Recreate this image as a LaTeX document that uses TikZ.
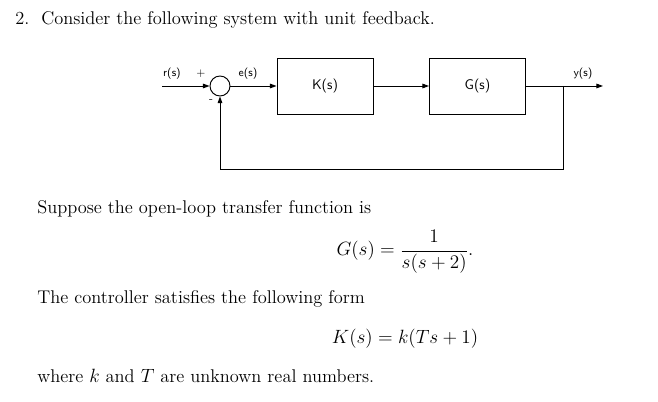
\documentclass[tikz,border=0pt]{standalone}
\usepackage{amsmath}
\usetikzlibrary{arrows.meta}
\begin{document}
\begin{tikzpicture}[x=0.75pt,y=-0.75pt,
  blk/.style={draw,line width=0.7pt,minimum width=72pt,minimum height=42pt,font=\sffamily\fontsize{10.5}{12}\selectfont},
  sig/.style={font=\sffamily\fontsize{8.5}{10}\selectfont},
  txt/.style={anchor=west,inner sep=0pt,font=\fontsize{13.8}{16}\selectfont},
  wire/.style={line width=0.7pt},
  arr/.style={wire,-{Triangle[length=5pt,width=3.5pt]}}]
\useasboundingbox (0,0) rectangle (658,402);
\node[txt] (title) at (15,20) {2.\ \ Consider the following system with unit feedback.};
\node[draw,circle,line width=0.7pt,minimum size=15pt,inner sep=0pt] (sum) at (220,86) {};
\node[blk] (K) at (325,86) {K(s)};
\node[blk] (G) at (477.5,86) {G(s)};
\coordinate (in) at (162,86);
\coordinate (br) at (563,86);
\coordinate (out) at (603,86);
\coordinate (fb) at (563,169);
\coordinate (fb2) at (220,169);
\draw[arr] (in) -- (sum);
\draw[arr] (sum) -- (K);
\draw[arr] (K) -- (G);
\draw[wire] (G) -- (br);
\draw[arr] (br) -- (out);
\draw[wire] (br) -- (fb) -- (fb2);
\draw[arr] (fb2) -- (sum);
\node[sig] (rl) at (172,74) {r(s)};
\node[sig] (pl) at (201,74) {+};
\node[sig] (el) at (248,74) {e(s)};
\node[sig] (ml) at (211,101) {-};
\node[sig] (yl) at (583,74) {y(s)};
\node[txt] (t2) at (37,209) {Suppose the open-loop transfer function is};
\node[inner sep=0pt,font=\fontsize{13.8}{16}\selectfont] (eq1) at (405,252) {$\displaystyle G(s)=\frac{1}{s(s+2)}.$};
\node[txt] (t3) at (37,299) {The controller satisfies the following form};
\node[inner sep=0pt,font=\fontsize{13.8}{16}\selectfont] (eq2) at (405,339) {$K(s)=k(Ts+1)$};
\node[txt] (t4) at (37,376) {where $k$ and $T$ are unknown real numbers.};
\end{tikzpicture}
\end{document}
